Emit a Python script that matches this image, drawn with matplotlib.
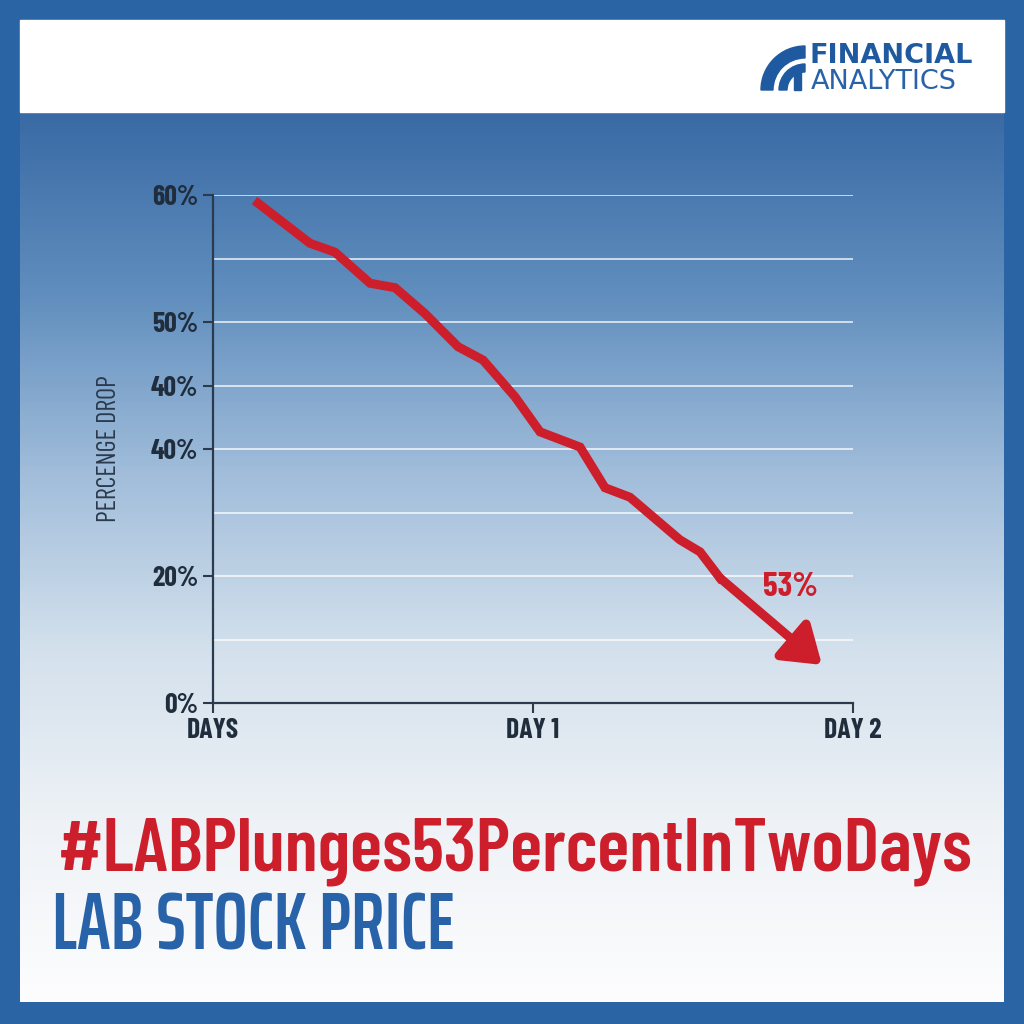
import matplotlib.pyplot as plt
import numpy as np
from matplotlib.patches import Rectangle, Wedge
from matplotlib.colors import LinearSegmentedColormap

plt.rcParams['font.family'] = ['Barlow Condensed', 'Roboto Condensed', 'DejaVu Sans']
plt.rcParams['font.stretch'] = 'condensed'

# data: x in days, y in grid units (0..8)
days = [0.141, 0.303, 0.381, 0.491, 0.569, 0.663, 0.766, 0.844, 0.944,
        1.022, 1.147, 1.225, 1.303, 1.459, 1.522, 1.584]
drop = [7.87, 7.24, 7.10, 6.61, 6.54, 6.13, 5.61, 5.40, 4.82,
        4.27, 4.03, 3.39, 3.24, 2.57, 2.38, 1.97]
arrow_end = (1.903, 0.60)

y_ticks = [0, 2, 4, 5, 6, 8]
y_labels = ['0%', '20%', '40%', '40%', '50%', '60%']
x_ticks = [0, 1, 2]
x_labels = ['DAYS', 'DAY 1', 'DAY 2']

BORDER = '#2a64a4'
RED = '#cd1f2b'
NAVY = '#1f2d3d'
BLUE_TXT = '#2862a8'

fig = plt.figure(figsize=(10.24, 10.24), dpi=100)
fig.patch.set_facecolor(BORDER)

# background in pixel coordinates
bg = fig.add_axes([0, 0, 1, 1])
bg.set_xlim(0, 1024)
bg.set_ylim(0, 1024)
bg.axis('off')

cmap = LinearSegmentedColormap.from_list(
    'bg', ['#3a6aa5', '#5f8dbd', '#9fbcda', '#d3e0ec', '#eef2f6', '#fdfdfe'])
grad = np.linspace(0, 1, 256).reshape(-1, 1)
bg.imshow(grad, cmap=cmap, extent=[20, 1004, 22, 912], aspect='auto', origin='upper')
bg.add_patch(Rectangle((20, 912), 984, 92, color='white'))

# logo
bg.add_patch(Wedge((805, 934), 44, 90, 180, width=12, color='#1f5aa0'))
bg.add_patch(Wedge((805, 934), 26, 90, 180, width=8, color='#1f5aa0'))
bg.add_patch(Rectangle((794, 934), 7, 18, color='#1f5aa0'))
bg.text(810, 968, 'FINANCIAL', fontsize=19.5, fontweight='bold', color='#1f5aa0',
        family='DejaVu Sans', stretch='normal', va='center', ha='left')
bg.text(811, 942, 'ANALYTICS', fontsize=19.5, color=BLUE_TXT,
        family='DejaVu Sans', stretch='normal', va='center', ha='left')

# main chart
ax = fig.add_axes([213 / 1024, 1 - 703 / 1024, 640 / 1024, 508 / 1024])
ax.set_facecolor('none')
ax.set_xlim(0, 2)
ax.set_ylim(0, 8)
for s in ['top', 'right']:
    ax.spines[s].set_visible(False)
for s in ['left', 'bottom']:
    ax.spines[s].set_color('#2b3a4c')
    ax.spines[s].set_linewidth(1.6)
for g in range(1, 9):
    ax.axhline(g, color='white', alpha=0.7, lw=1.4, zorder=1)

ax.set_yticks(y_ticks)
ax.set_yticklabels(y_labels)
ax.set_xticks(x_ticks)
ax.set_xticklabels(x_labels)
ax.tick_params(axis='both', colors='#2b3a4c', labelcolor=NAVY, labelsize=20,
               length=7, width=1.5)
for lab in ax.get_yticklabels() + ax.get_xticklabels():
    lab.set_fontweight('bold')
ax.set_ylabel('PERCENGE DROP', fontsize=19, color='#2b3a4c')
ax.yaxis.set_label_coords(-0.144, 0.5)

ax.plot(days, drop, color=RED, lw=6.5, solid_joinstyle='miter', zorder=3)
ax.annotate('', xy=arrow_end, xytext=(days[-1], drop[-1]),
            arrowprops=dict(arrowstyle='-|>,head_length=1.1,head_width=0.75',
                            mutation_scale=20, color=RED, lw=6.5,
                            shrinkA=0, shrinkB=0), zorder=3)
ax.text(1.803, 1.82, '53%', color=RED, fontsize=24, fontweight='bold',
        ha='center', va='center')

fig.text(58 / 1024, 1 - 870 / 1024, '#LABPlunges53PercentInTwoDays', color=RED,
         fontsize=54, fontweight='semibold', ha='left', va='baseline')
fig.text(52 / 1024, 1 - 950 / 1024, 'LAB STOCK PRICE', color=BLUE_TXT,
         fontsize=58, fontweight='semibold', ha='left', va='baseline',
         family=['Saira ExtraCondensed', 'Barlow Condensed', 'DejaVu Sans'])

fig.savefig('out.png', dpi=100, facecolor=fig.get_facecolor())
